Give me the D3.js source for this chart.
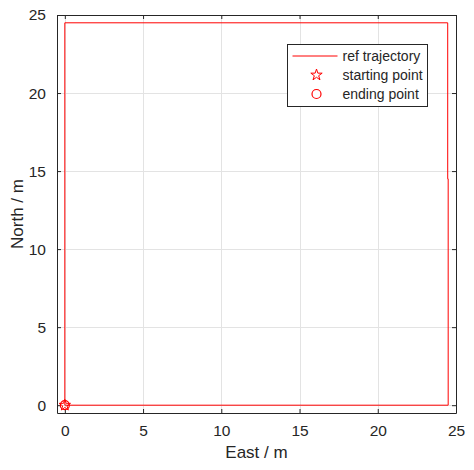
<!DOCTYPE html>
<html>
<head>
<meta charset="utf-8">
<script src="https://cdn.jsdelivr.net/npm/d3@7"></script>
<style>
  body { margin: 0; background: #fff; }
  text { font-family: Arial, "Liberation Sans", sans-serif; fill: #262626; }
</style>
</head>
<body>
<div id="chart"></div>
<script>
// trajectory points (east, north) in metres
var trajEast  = [0, 24.5, 24.5, 24.47, 24.47, 0, 0];
var trajNorth = [0, 0, 14.5, 14.5, 24.5, 24.5, 0];
var startPoint = [0, 0];
var endPoint = [0, 0];
var xTicks = [0, 5, 10, 15, 20, 25];
var yTicks = [0, 5, 10, 15, 20, 25];
var legendLabels = ['ref trajectory', 'starting point', 'ending point'];

var width = 474, height = 470;
var m = { left: 57, right: 18, top: 15, bottom: 57 };
var axisColor = '#262626', red = '#ff0000';

var svg = d3.select('#chart').append('svg')
  .attr('width', width).attr('height', height);

var x = d3.scaleLinear().domain([-0.5, 25]).range([m.left, width - m.right]);
var y = d3.scaleLinear().domain([-0.5, 25]).range([height - m.bottom, m.top]);

// grid
var grid = svg.append('g').attr('stroke', '#e3e3e3').attr('stroke-width', 1);
grid.selectAll('.gx').data(xTicks).enter().append('line')
  .attr('x1', function(d) { return Math.round(x(d)) + 0.5; })
  .attr('x2', function(d) { return Math.round(x(d)) + 0.5; })
  .attr('y1', y.range()[0]).attr('y2', y.range()[1]);
grid.selectAll('.gy').data(yTicks).enter().append('line')
  .attr('y1', function(d) { return Math.round(y(d)) + 0.5; })
  .attr('y2', function(d) { return Math.round(y(d)) + 0.5; })
  .attr('x1', x.range()[0]).attr('x2', x.range()[1]);

// axes (ticks inward, on all four sides)
function styleAxis(g) {
  g.selectAll('path').attr('stroke', axisColor);
  g.selectAll('line').attr('stroke', axisColor);
  g.selectAll('text').style('font-size', '15.5px').attr('fill', '#000');
}
svg.append('g').attr('transform', 'translate(0,' + (height - m.bottom) + ')')
  .call(d3.axisBottom(x).tickValues(xTicks).tickSizeInner(-4).tickSizeOuter(0).tickPadding(12))
  .call(styleAxis);
svg.append('g').attr('transform', 'translate(0,' + m.top + ')')
  .call(d3.axisTop(x).tickValues(xTicks).tickSizeInner(-4).tickSizeOuter(0).tickFormat(''))
  .call(styleAxis);
svg.append('g').attr('transform', 'translate(' + m.left + ',0)')
  .call(d3.axisLeft(y).tickValues(yTicks).tickSizeInner(-4).tickSizeOuter(0).tickPadding(11))
  .call(styleAxis);
svg.append('g').attr('transform', 'translate(' + (width - m.right) + ',0)')
  .call(d3.axisRight(y).tickValues(yTicks).tickSizeInner(-4).tickSizeOuter(0).tickFormat(''))
  .call(styleAxis);

// trajectory
var pts = trajEast.map(function(e, i) { return [e, trajNorth[i]]; });
var line = d3.line().x(function(d) { return x(d[0]); }).y(function(d) { return y(d[1]); });
svg.append('path').datum(pts).attr('d', line)
  .attr('fill', 'none').attr('stroke', red).attr('stroke-width', 1);

// markers
var star = d3.symbol().type(d3.symbolStar).size(40);
svg.append('path').attr('d', star)
  .attr('transform', 'translate(' + x(startPoint[0]) + ',' + y(startPoint[1]) + ')')
  .attr('fill', 'none').attr('stroke', red).attr('stroke-width', 1);
svg.append('circle').attr('cx', x(endPoint[0])).attr('cy', y(endPoint[1])).attr('r', 4.5)
  .attr('fill', 'none').attr('stroke', red).attr('stroke-width', 1.2);

// axis labels
svg.append('text').attr('x', (x.range()[0] + x.range()[1]) / 2).attr('y', 458)
  .attr('text-anchor', 'middle').style('font-size', '17px').attr('fill', '#000').text('East / m');
svg.append('text').attr('transform', 'translate(23,' + ((y.range()[0] + y.range()[1]) / 2) + ') rotate(-90)')
  .attr('text-anchor', 'middle').style('font-size', '17px').attr('fill', '#000').text('North / m');

// legend
var lg = svg.append('g').attr('transform', 'translate(287.5,44.5)');
lg.append('rect').attr('width', 140).attr('height', 62)
  .attr('fill', '#fff').attr('stroke', axisColor).attr('stroke-width', 1);
var rows = lg.selectAll('.legend').data(legendLabels).enter().append('g')
  .attr('class', 'legend')
  .attr('transform', function(d, i) { return 'translate(0,' + (11.5 + i * 19) + ')'; });
rows.append('text').attr('x', 55).attr('y', 0).attr('dy', '0.35em')
  .style('font-size', '14px').attr('fill', '#000').text(function(d) { return d; });
rows.filter(function(d, i) { return i === 0; }).append('line')
  .attr('x1', 5).attr('x2', 50).attr('stroke', red).attr('stroke-width', 1);
rows.filter(function(d, i) { return i === 1; }).append('path')
  .attr('d', star).attr('transform', 'translate(29,0)')
  .attr('fill', 'none').attr('stroke', red).attr('stroke-width', 1);
rows.filter(function(d, i) { return i === 2; }).append('circle')
  .attr('cx', 29).attr('r', 4.5)
  .attr('fill', 'none').attr('stroke', red).attr('stroke-width', 1.2);
</script>
</body>
</html>
